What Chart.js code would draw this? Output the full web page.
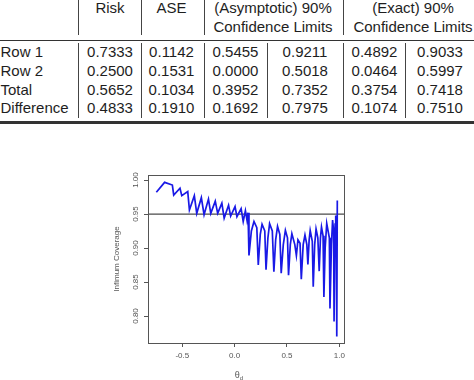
<!DOCTYPE html>
<html>
<head>
<meta charset="utf-8">
<script src="https://cdn.jsdelivr.net/npm/chart.js@4.4.0/dist/chart.umd.min.js"></script>
<style>
  html,body{margin:0;padding:0;background:#fff;}
  body{width:474px;height:380px;position:relative;overflow:hidden;font-family:"Liberation Sans",Arial,sans-serif;}
  .t{position:absolute;font-size:15px;line-height:15px;color:#1e1e1e;white-space:nowrap;}
  .vl{position:absolute;width:1px;background:#444;}
  .hl{position:absolute;left:0;width:474px;background:#333;}
  #chartBox{position:absolute;left:0;top:140px;width:474px;height:240px;}
  #xTitle{position:absolute;font-size:9px;color:#555;line-height:9px;}
  #xTitle sub{font-size:6px;vertical-align:-2px;}
</style>
</head>
<body>
<div id="table"></div>
<div id="chartBox"><canvas id="c" width="474" height="240"></canvas></div>
<div id="xTitle">θ<sub>d</sub></div>
<script>
// ---------- table data ----------
const rowLabels = ['Row 1', 'Row 2', 'Total', 'Difference'];
const risk       = ['0.7333', '0.2500', '0.5652', '0.4833'];
const ase        = ['0.1142', '0.1531', '0.1034', '0.1910'];
const asymLower  = ['0.5455', '0.0000', '0.3952', '0.1692'];
const asymUpper  = ['0.9211', '0.5018', '0.7352', '0.7975'];
const exactLower = ['0.4892', '0.0464', '0.3754', '0.1074'];
const exactUpper = ['0.9033', '0.5997', '0.7418', '0.7510'];
const headerLine1 = ['Risk', 'ASE', '(Asymptotic) 90%', '(Exact) 90%'];
const headerLine2 = ['', '', 'Confidence Limits', 'Confidence Limits'];

// ---------- chart data ----------
const thetaD = [
  -0.748, -0.669, -0.595, -0.582, -0.522, -0.505, -0.448, -0.432, -0.385, -0.362,
  -0.318, -0.292, -0.250, -0.228, -0.185, -0.162, -0.122, -0.100, -0.058, -0.038,
   0.004,  0.022,  0.062,  0.082,  0.103,  0.118,  0.128,  0.137,
   0.160,  0.185,  0.212,  0.226,  0.245,  0.262,  0.288,  0.300,  0.318,  0.334,
   0.360,  0.375,  0.392,  0.410,  0.432,  0.445,  0.465,  0.485,  0.505,  0.515,
   0.532,  0.547,  0.575,  0.590,  0.605,  0.625,  0.637,  0.655,  0.672,  0.690,
   0.700,  0.712,  0.722,  0.742,  0.751,  0.765,  0.778,  0.795,  0.808,  0.820,
   0.830,  0.845,  0.853,  0.865,  0.880,  0.905,  0.911,  0.925,  0.936,  0.946,
   0.950,  0.960,  0.966,  0.972,  0.976,  0.981
];
const coverage = [
   0.982, 0.9966, 0.9926, 0.978, 0.988, 0.977, 0.983, 0.956, 0.977, 0.951,
   0.974, 0.949, 0.972, 0.951, 0.969, 0.951, 0.966, 0.944, 0.963, 0.947,
   0.961, 0.946, 0.958, 0.939, 0.955, 0.941, 0.952, 0.889,
   0.925, 0.939, 0.930, 0.875, 0.920, 0.935, 0.925, 0.868, 0.915, 0.936,
   0.925, 0.865, 0.912, 0.932, 0.920, 0.863, 0.905, 0.926, 0.915, 0.860,
   0.905, 0.921, 0.905, 0.889, 0.912, 0.907, 0.854, 0.905, 0.919, 0.905,
   0.876, 0.912, 0.926, 0.910, 0.843, 0.905, 0.928, 0.915, 0.866, 0.915,
   0.931, 0.918, 0.828, 0.900, 0.936, 0.915, 0.811, 0.905, 0.941, 0.925,
   0.792, 0.935, 0.948, 0.930, 0.770, 0.970
];
const referenceLevel = 0.95;
const xTicks = [-0.5, 0.0, 0.5, 1.0];
const yTicks = [0.80, 0.85, 0.90, 0.95, 1.00];

// ---------- build table ----------
(function(){
  const tb = document.getElementById('table');
  const centers = [110, 171.5, 235.5, 305, 374.5, 440];
  const headCenters = [110, 171.5, 273, 413];
  const rowBase = [56.7, 75.5, 94.2, 112.9];
  const asc = 12.46;
  function txt(s, x, base, align){
    const d = document.createElement('div');
    d.className = 't';
    d.textContent = s;
    d.style.top = (base - asc) + 'px';
    if (align === 'left') { d.style.left = x + 'px'; }
    else { d.style.left = x + 'px'; d.style.transform = 'translateX(-50%)'; }
    tb.appendChild(d);
  }
  headerLine1.forEach((h, i) => txt(h, headCenters[i], 12.4, 'c'));
  headerLine2.forEach((h, i) => { if (h) txt(h, headCenters[i], 31.2, 'c'); });
  const cols = [risk, ase, asymLower, asymUpper, exactLower, exactUpper];
  rowLabels.forEach((lab, r) => {
    txt(lab, 0.5, rowBase[r], 'left');
    cols.forEach((col, c) => txt(col[r], centers[c], rowBase[r], 'c'));
  });
  function vl(x, y0, y1){
    const d = document.createElement('div'); d.className = 'vl';
    d.style.left = x + 'px'; d.style.top = y0 + 'px'; d.style.height = (y1 - y0) + 'px';
    tb.appendChild(d);
  }
  [78, 141, 203.5, 343].forEach(x => vl(x, 0, 35));
  [78, 141, 203.5, 267, 343, 404.5].forEach(x => vl(x, 43, 118));
  function hl(y, h){
    const d = document.createElement('div'); d.className = 'hl';
    d.style.top = y + 'px'; d.style.height = h + 'px';
    tb.appendChild(d);
  }
  hl(39.5, 1.5);
  hl(120.5, 3);
})();

// ---------- chart ----------
const xMin = -0.8277, xMax = 1.045, yMin = 0.7603, yMax = 1.0074;
const boxPlugin = {
  id: 'box',
  afterDatasetsDraw(chart){
    const {ctx, chartArea: a} = chart;
    ctx.save();
    ctx.strokeStyle = '#555';
    ctx.lineWidth = 1;
    ctx.strokeRect(Math.round(a.left) + 0.5, Math.round(a.top) + 0.5,
                   Math.round(a.right - a.left), Math.round(a.bottom - a.top));
    ctx.restore();
  }
};
const axisFont = {family: '"Liberation Sans", Arial, sans-serif', size: 8};
new Chart(document.getElementById('c'), {
  type: 'line',
  data: {
    datasets: [
      {
        data: thetaD.map((x, i) => ({x, y: coverage[i]})),
        borderColor: 'rgb(25,25,230)',
        borderWidth: 1.7,
        pointRadius: 0,
        tension: 0,
        fill: false
      },
      {
        data: [{x: xMin, y: referenceLevel}, {x: xMax, y: referenceLevel}],
        borderColor: '#4a4a4a',
        borderWidth: 1.3,
        pointRadius: 0,
        fill: false
      }
    ]
  },
  options: {
    responsive: false,
    animation: false,
    devicePixelRatio: 1,
    layout: {padding: {left: 112, right: 130, top: 35, bottom: 0}},
    plugins: {legend: {display: false}, tooltip: {enabled: false}},
    scales: {
      x: {
        type: 'linear', min: xMin, max: xMax,
        afterBuildTicks: s => { s.ticks = xTicks.map(v => ({value: v})); },
        afterFit: s => { s.height = 37; },
        ticks: {callback: v => v.toFixed(1), font: axisFont, color: '#555', padding: 4, maxRotation: 0},
        grid: {drawOnChartArea: false, drawTicks: true, tickLength: 4, color: '#555'},
        border: {display: true, color: '#555'}
      },
      y: {
        type: 'linear', min: yMin, max: yMax,
        afterBuildTicks: s => { s.ticks = yTicks.map(v => ({value: v})); },
        afterFit: s => { s.width = 36; },
        ticks: {callback: v => v.toFixed(2), font: axisFont, color: '#555', padding: 0,
                minRotation: 90, maxRotation: 90, crossAlign: 'center'},
        grid: {drawOnChartArea: false, drawTicks: true, tickLength: 4, color: '#555'},
        border: {display: true, color: '#555'},
        title: {display: true, text: 'Infimum Coverage', font: axisFont, color: '#555', padding: 0}
      }
    }
  },
  plugins: [boxPlugin]
});
// x-axis title (with subscript) placed under the axis
(function(){
  const t = document.getElementById('xTitle');
  const w = t.getBoundingClientRect().width;
  t.style.left = (239 - w / 2) + 'px';
  t.style.top = '371px';
})();
</script>
</body>
</html>
